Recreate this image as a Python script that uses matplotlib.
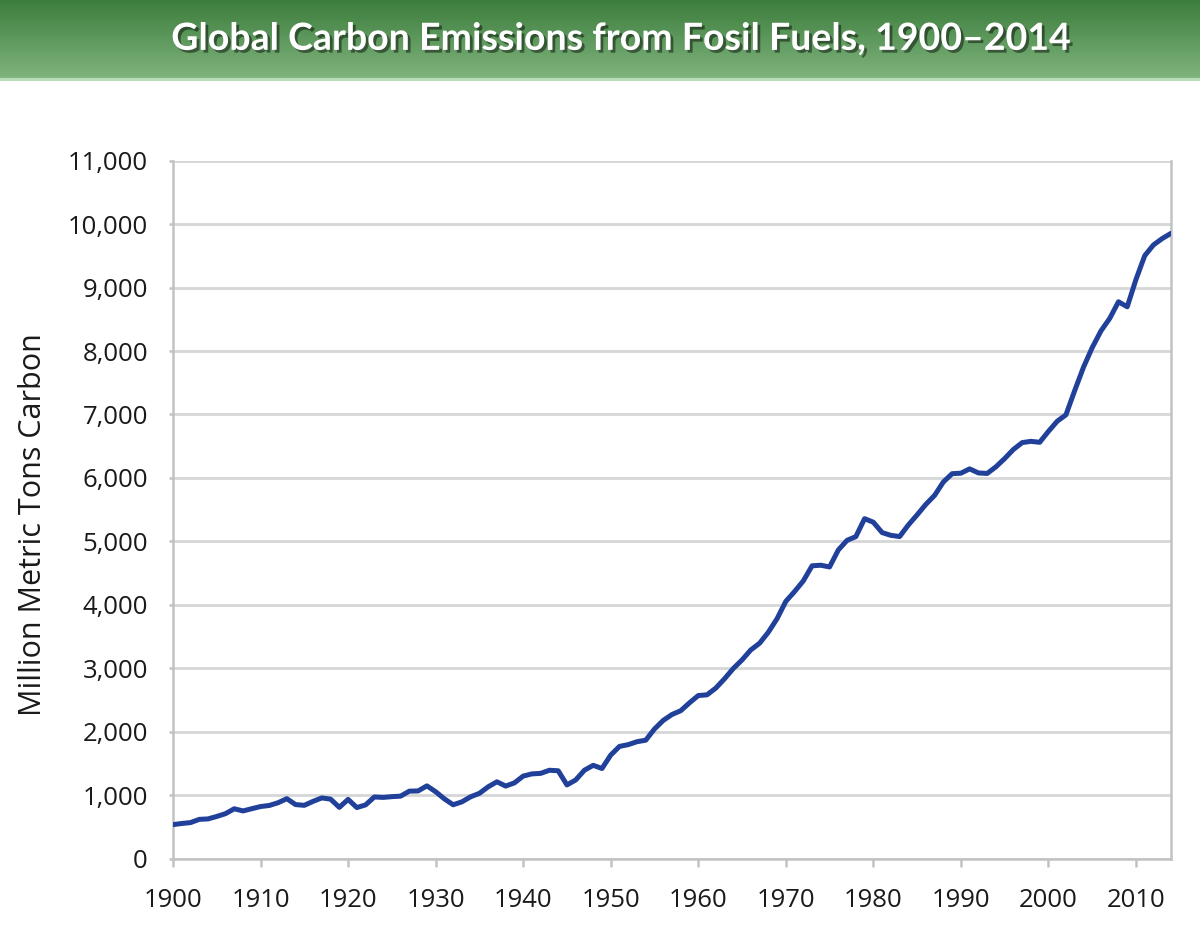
import numpy as np
import matplotlib
matplotlib.use("Agg")
import matplotlib.pyplot as plt
import matplotlib.patheffects as pe
from matplotlib.ticker import FuncFormatter

# global fossil fuel carbon emissions, million metric tons carbon
years = list(range(1900, 2015))
emissions = [
    534, 552, 566, 617, 624, 663, 707, 784, 750, 785,
    819, 836, 879, 943, 850, 838, 901, 955, 936, 806,
    932, 803, 845, 970, 963, 975, 983, 1062, 1065, 1145,
    1053, 940, 847, 893, 973, 1027, 1130, 1209, 1142, 1192,
    1299, 1334, 1342, 1391, 1383, 1160, 1238, 1392, 1469, 1419,
    1630, 1767, 1795, 1841, 1865, 2042, 2177, 2270, 2330, 2454,
    2569, 2580, 2686, 2833, 2995, 3130, 3288, 3393, 3566, 3780,
    4053, 4208, 4376, 4614, 4623, 4596, 4864, 5016, 5074, 5357,
    5301, 5138, 5094, 5075, 5258, 5417, 5583, 5725, 5936, 6066,
    6074, 6142, 6078, 6070, 6174, 6305, 6448, 6556, 6576, 6561,
    6733, 6893, 6994, 7376, 7743, 8053, 8317, 8514, 8776, 8697,
    9128, 9503, 9673, 9773, 9855,
]
x_ticks = list(range(1900, 2011, 10))
y_ticks = list(range(0, 11001, 1000))

title = "Global Carbon Emissions from Fosil Fuels, 1900\u20132014"
ylabel = "Million Metric Tons Carbon"

plt.rcParams["font.family"] = ["Open Sans", "DejaVu Sans"]

fig = plt.figure(figsize=(12, 9.32), dpi=100)

# green title banner
band = fig.add_axes([0, 1 - 81 / 932, 1, 81 / 932])
top = np.array([60, 125, 60]) / 255
bot = np.array([130, 182, 128]) / 255
t = np.linspace(0, 1, 100)[:, None]
grad = top + (bot - top) * t
band.imshow(grad[:, None, :], aspect="auto", extent=[0, 1, 0, 1])
band.axhline(0.01, color="#b8dcb8", lw=3)
band.set_axis_off()
band.text(0.5175, 0.52, title, color="white", fontsize=27, fontweight="bold",
          family=["Lato", "DejaVu Sans"],
          ha="center", va="center", transform=band.transAxes,
          path_effects=[pe.withSimplePatchShadow(offset=(2, -2), shadow_rgbFace="black", alpha=0.45)])

ax = fig.add_axes([173 / 1200, 1 - 858.5 / 932, 998 / 1200, 697.8 / 932])
ax.plot(years, emissions, color="#20409a", lw=3.6, solid_joinstyle="round", solid_capstyle="round", zorder=3)

ax.set_xlim(1900, 2014)
ax.set_ylim(0, 11000)
ax.set_xticks(x_ticks)
ax.set_yticks(y_ticks)
ax.yaxis.set_major_formatter(FuncFormatter(lambda v, p: f"{int(v):,}"))
ax.grid(axis="y", color="#d4d6d8", lw=2)
ax.set_axisbelow(True)

for s in ["left", "bottom", "right"]:
    ax.spines[s].set_color("#c0c2c4")
    ax.spines[s].set_linewidth(1.8)
ax.spines["top"].set_visible(False)

ax.tick_params(axis="x", length=6, width=1.8, color="#c0c2c4", labelsize=18.5, pad=15, labelcolor="#1a1a1a")
ax.tick_params(axis="y", length=3, width=1.8, color="#c0c2c4", labelsize=18.5, pad=15, labelcolor="#1a1a1a")
ax.set_ylabel(ylabel, fontsize=22, color="#1a1a1a", va="center")
ax.yaxis.set_label_coords(-140 / 998, 0.479)

fig.savefig("out.png", dpi=100)
